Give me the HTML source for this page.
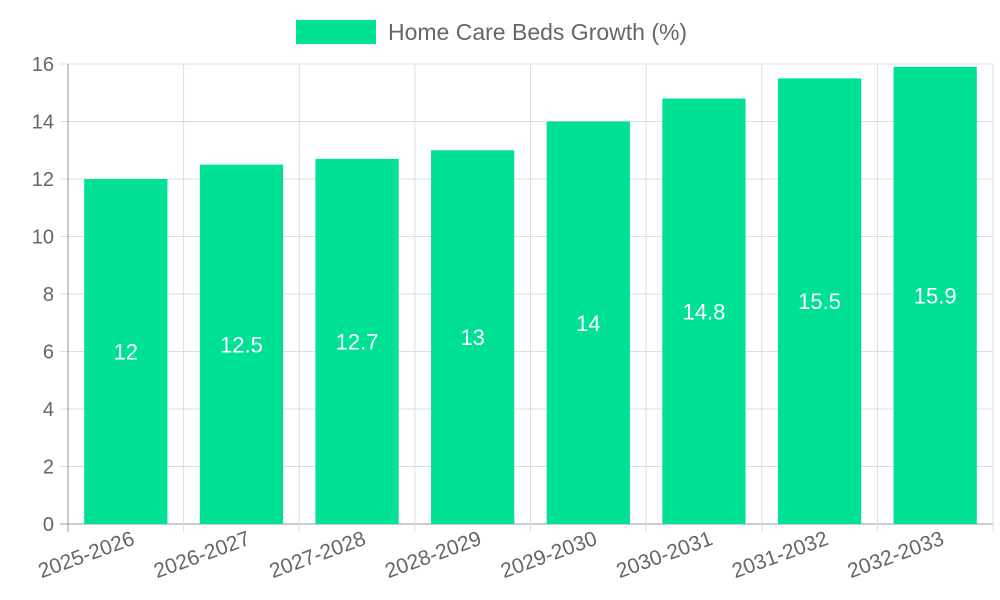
<!DOCTYPE html>
<html><head><meta charset="utf-8"><style>
html,body{margin:0;padding:0;background:#fff;}
svg{display:block;font-family:"Liberation Sans",sans-serif;}
</style></head><body>
<svg id="chart" width="1000" height="600" viewBox="0 0 1000 600" xmlns="http://www.w3.org/2000/svg">
<g>
<rect x="296" y="20" width="80" height="24" fill="#00e096"/>
<text x="388" y="40" font-size="23" fill="#666">Home Care Beds Growth (%)</text>
</g>
<g id="grid"></g><g id="bars"></g><g id="labels"></g>
</svg>
<script>
const categories=["2025-2026","2026-2027","2027-2028","2028-2029","2029-2030","2030-2031","2031-2032","2032-2033"];
const values=[12,12.5,12.7,13,14,14.8,15.5,15.9];
const yTicks=[0,2,4,6,8,10,12,14,16];
const NS="http://www.w3.org/2000/svg";
const L=68,R=993,T=64,B=524,yMax=16;
const band=(R-L)/categories.length;
const x=i=>L+band*i;
const y=v=>B-(v/yMax)*(B-T);
function mk(tag,attrs,parent){const e=document.createElementNS(NS,tag);for(const k in attrs)e.setAttribute(k,attrs[k]);parent.appendChild(e);return e;}
const grid=document.getElementById('grid'),bars=document.getElementById('bars'),labels=document.getElementById('labels');
yTicks.forEach(t=>{
 const ln=mk('line',{x1:L-8,x2:R,y1:y(t),y2:y(t),stroke:t===0?'#999':'#ddd','stroke-width':1},grid);
 
 
 const tx=mk('text',{x:L-14,y:y(t)+7,'text-anchor':'end','font-size':20,fill:'#666'},grid);
 
 
 tx.textContent=t;
});
for(let i=0;i<=categories.length;i++){
 const ln=mk('line',{x1:x(i),x2:x(i),y1:T,y2:B+8,stroke:i===0?'#999':'#ddd','stroke-width':1},grid);
 
 
}
categories.forEach((c,i)=>{
 const bw=band*0.72,bx=x(i)+(band-bw)/2,v=values[i];
 const r=mk('rect',{x:bx,y:y(v),width:bw,height:B-y(v),fill:'#00e096'},bars);
 
 
 const vt=mk('text',{x:bx+bw/2,y:y(v/2)+8,'text-anchor':'middle','font-size':22,fill:'#fff'},labels);
 
 
 vt.textContent=v;
 const cx=x(i)+band/2+10,cy=B+20;
 const xt=mk('text',{x:cx,y:cy,'text-anchor':'end','font-size':21,fill:'#666',transform:`rotate(-20 ${cx} ${cy})`},labels);
 
 
 xt.textContent=c;
});
</script>
</body></html>
